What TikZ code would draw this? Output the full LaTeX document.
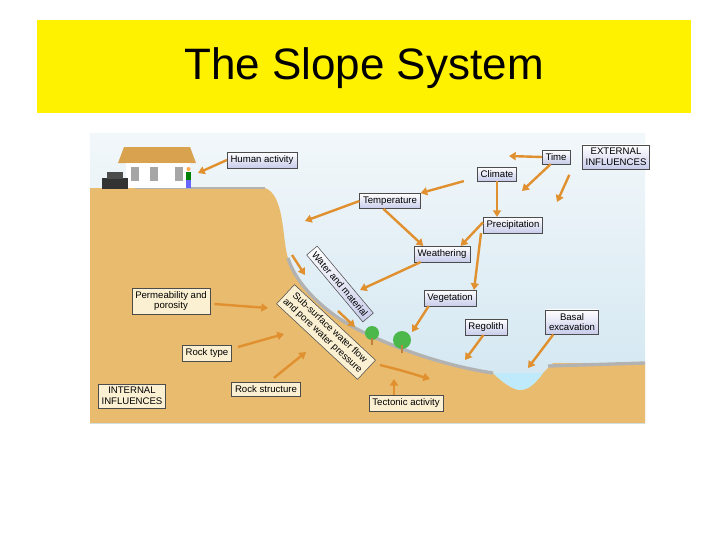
\documentclass[tikz,border=0pt]{standalone}
\usepackage{fontspec}
\setmainfont{Liberation Sans}
\usetikzlibrary{arrows.meta,shadows}
\definecolor{arr}{HTML}{E0902E}
\definecolor{soil}{HTML}{E9BB6E}
\definecolor{soild}{HTML}{D9A24E}
\definecolor{skyt}{HTML}{F2F7FA}
\definecolor{skyb}{HTML}{CFE5F0}
\definecolor{extb}{HTML}{C8CCEA}
\definecolor{intb}{HTML}{FBF0D2}
\tikzset{
 ext/.style={draw=black!70,line width=0.4pt,top color=white,bottom color=extb,inner sep=2.5pt,font=\fontsize{7.2}{8}\selectfont,align=center},
 int/.style={draw=black!70,line width=0.4pt,fill=intb,inner sep=2.5pt,font=\fontsize{7.2}{8}\selectfont,align=center},
 ar/.style={draw=arr,line width=1.8pt,-{Triangle[length=5pt,width=6pt]}},
}
\begin{document}
\begin{tikzpicture}[x=0.75pt,y=-0.75pt]
\useasboundingbox (0,0) rectangle (728,546);
\fill[white] (0,0) rectangle (728,546);
% banner
\fill[yellow] (37,20) rectangle (691,113);
\node (title) at (364,68) {\fontsize{33}{36}\selectfont The Slope System};
% sky
\shade[top color=skyt,bottom color=skyb] (90,133) rectangle (645,423);
% ground
\fill[soil] (90,188) -- (265,188) .. controls (285,195) and (282,240) .. (288,258)
 .. controls (296,285) and (325,312) .. (355,328) .. controls (390,346) and (440,365) .. (493,373)
 .. controls (505,385) and (515,390) .. (520,390) .. controls (530,390) and (538,380) .. (543,373)
 -- (553,363) -- (645,363) -- (645,423) -- (90,423) -- cycle;
% water
\fill[cyan!25] (493,373) .. controls (505,385) and (515,390) .. (520,390) .. controls (530,390) and (538,380) .. (543,373) -- cycle;
% rocky surface
\draw[gray!60,line width=2pt] (135,188) -- (265,188);
\draw[gray!60,line width=2.5pt] (288,258) .. controls (296,285) and (325,312) .. (355,328) .. controls (390,346) and (440,365) .. (493,373);
\draw[gray!60,line width=2.5pt] (548,366) -- (645,363);
% house
\fill[soild] (124,147) -- (190,147) -- (196,163) -- (118,163) -- cycle;
\fill[white] (126,163) rectangle (190,188);
\foreach \xx in {131,150,175} {\fill[gray!70] (\xx,167) rectangle +(8,14);}
% car
\fill[black!80] (102,178) rectangle (128,189);
\fill[black!70] (107,172) rectangle (123,179);
% person
\fill[green!50!black] (186,172) rectangle (191,180);
\fill[blue!60] (186,180) rectangle (191,188);
\fill[orange!70] (188.5,169) circle (2);
% trees
\fill[green!60!black!70] (372,333) circle (7);
\fill[green!60!black!70] (402,340) circle (9);
\fill[brown] (371,338) rectangle (373,345);
\fill[brown] (401,345) rectangle (403,353);
% boxes
\node[ext] (human) at (262,160) {Human activity};
\node[ext] (time) at (556,157) {Time};
\node[ext] (extinf) at (616,157) {EXTERNAL\\INFLUENCES};
\node[ext] (climate) at (497,174) {Climate};
\node[ext] (temp) at (390,201) {Temperature};
\node[ext] (precip) at (513,225) {Precipitation};
\node[ext] (weath) at (442,254) {Weathering};
\node[ext] (veg) at (450,298) {Vegetation};
\node[ext] (rego) at (486,327) {Regolith};
\node[ext] (basal) at (572,322) {Basal\\excavation};
\node[ext,rotate=-50] (water) at (340,284) {Water and material};
\node[int] (perm) at (171,301) {Permeability and\\porosity};
\node[int] (rtype) at (207,353) {Rock type};
\node[int] (intinf) at (132,396) {INTERNAL\\INFLUENCES};
\node[int] (rstruct) at (266,389) {Rock structure};
\node[int] (tect) at (406,403) {Tectonic activity};
\node[int,rotate=-43] (subs) at (326,332) {Sub-surface water flow\\and pore water pressure};
% free ends
\coordinate (h1) at (198,173);
\coordinate (t1) at (509,156);
\coordinate (t2) at (522,191);
\coordinate (t3) at (557,202);
\coordinate (te1) at (305,221);
\coordinate (w1) at (360,290);
\coordinate (v1) at (412,332);
\coordinate (r1) at (465,360);
\coordinate (b1) at (528,368);
\coordinate (tc1) at (380,365);
\coordinate (tc2) at (430,379);
\coordinate (p1) at (268,308);
\coordinate (rt1) at (284,334);
\coordinate (rs1) at (306,352);
\coordinate (s1a) at (292,255);
\coordinate (s1b) at (305,275);
\coordinate (s2a) at (338,311);
\coordinate (s2b) at (355,327);
% arrows
\draw[ar] (human.west) -- (h1);
\draw[ar] (time.west) -- (t1);
\draw[ar] ([xshift=-4pt]time.south) -- (t2);
\draw[ar] ([xshift=10pt,yshift=-8pt]time.south) -- (t3);
\draw[ar] ([xshift=-10pt]climate.south west) -- (temp.north east);
\draw[ar] (climate.south) -- (precip.north -| climate.south);
\draw[ar] (temp.west) -- (te1);
\draw[ar] ([xshift=18pt]temp.south west) -- ([xshift=-14pt]weath.north);
\draw[ar] ([yshift=2pt]precip.west) -- ([xshift=14pt]weath.north);
\draw[ar] ([xshift=-24pt]precip.south) -- ([xshift=18pt]veg.north);
\draw[ar] ([xshift=-16pt]weath.south) -- (w1);
\draw[ar] ([xshift=-16pt]veg.south) -- (v1);
\draw[ar] ([xshift=-2pt]rego.south) -- (r1);
\draw[ar] ([xshift=-14pt]basal.south) -- (b1);
\draw[ar] ([xshift=-9pt]tect.north) -- ++(0,-16);
\draw[ar] (tc1) .. controls (400,370) .. (tc2);
\draw[ar] (perm.east) ++(4,3) -- (p1);
\draw[ar] (rtype.east) ++(6,-6) -- (rt1);
\draw[ar] ([xshift=6pt]rstruct.north) ++(0,-4) -- (rs1);
\draw[ar] (s1a) -- (s1b);
\draw[ar] (s2a) -- (s2b);
\end{tikzpicture}
\end{document}
